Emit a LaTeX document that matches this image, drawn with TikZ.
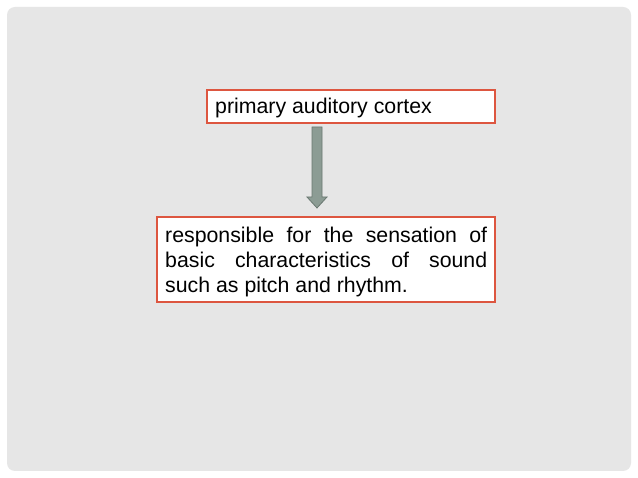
\documentclass[tikz,border=0pt]{standalone}
\usepackage{fontspec}
\setmainfont{Liberation Sans}
\definecolor{bgray}{HTML}{E6E6E6}
\definecolor{boxred}{HTML}{DD5640}
\definecolor{arrfill}{HTML}{8C9C94}
\definecolor{arrdraw}{HTML}{6A7871}
\begin{document}
\begin{tikzpicture}[x=1pt,y=-1pt,
  redbox/.style={draw=boxred,line width=1.4pt,fill=white,inner sep=0pt},
  txt/.style={font=\fontsize{21.3}{25}\selectfont}]
\useasboundingbox (0,0) rectangle (638,478);
\fill[white] (0,0) rectangle (638,478);
\fill[bgray,rounded corners=8pt] (7,7) rectangle (631,471);
% top box
\draw[redbox] (207,90) rectangle (495,123);
\node[txt,anchor=base west,inner sep=0pt] (top) at (215,113.5) {primary auditory cortex};
% bottom box
\draw[redbox] (157,217) rectangle (495,302);
\node[txt,anchor=north west,inner sep=0pt,text width=322pt,align=justify] (bot) at (165,226.5)
  {responsible for the sensation of\linebreak basic characteristics of sound\linebreak such as pitch and rhythm.};
% arrow
\draw[arrdraw,fill=arrfill,line width=0.8pt,line join=miter]
  (312,127) -- (322,127) -- (322,197) -- (327,197) -- (317,208) -- (307,197) -- (312,197) -- cycle;
\end{tikzpicture}
\end{document}
